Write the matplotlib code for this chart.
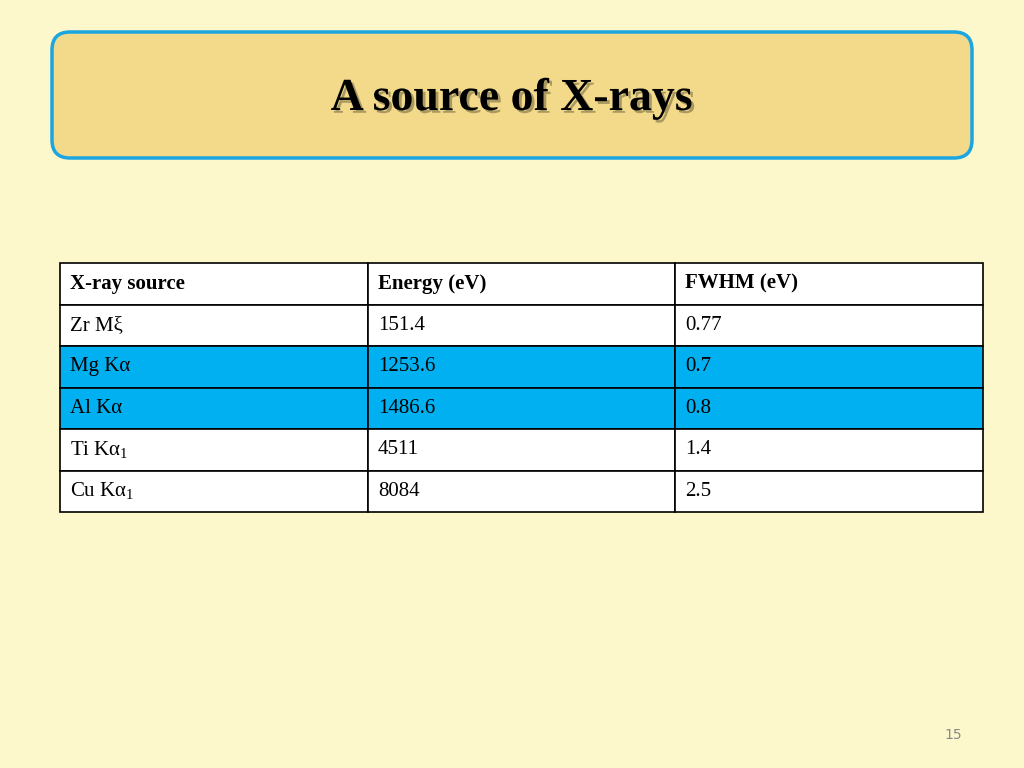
import matplotlib
matplotlib.use('Agg')
import matplotlib.pyplot as plt
from matplotlib.patches import FancyBboxPatch, Rectangle
import matplotlib.patheffects as pe

plt.rcParams['font.family'] = ['Liberation Serif', 'DejaVu Serif']
plt.rcParams['mathtext.fontset'] = 'custom'
plt.rcParams['mathtext.rm'] = 'Liberation Serif'

title = 'A source of X-rays'
headers = ['X-ray source', 'Energy (eV)', 'FWHM (eV)']
sources = ['Zr M\u03be', 'Mg K\u03b1', 'Al K\u03b1', 'Ti K\u03b1$_1$', 'Cu K\u03b1$_1$']
energies = ['151.4', '1253.6', '1486.6', '4511', '8084']
fwhm = ['0.77', '0.7', '0.8', '1.4', '2.5']
highlight = [False, True, True, False, False]
page = '15'

fig = plt.figure(figsize=(10.24, 7.68), dpi=100)
fig.patch.set_facecolor('#FDF8CB')
ax = fig.add_axes([0, 0, 1, 1])
ax.set_xlim(0, 1024)
ax.set_ylim(768, 0)
ax.axis('off')

# title box
ax.add_patch(FancyBboxPatch((52, 32), 920, 126, boxstyle='round,pad=0,rounding_size=18',
                            fc='#F2DA8A', ec='#1BA6E2', lw=2.5))
ax.text(512, 99, title, ha='center', va='center', fontsize=33, fontweight='bold',
        color='black', path_effects=[pe.withSimplePatchShadow(offset=(2, -2), alpha=0.3)])

# table
col_x = [60, 368, 675, 983]
top, row_h = 263, 41.5
rows = [headers] + [list(r) for r in zip(sources, energies, fwhm)]
fills = [False] + highlight
for i, row in enumerate(rows):
    y = top + i * row_h
    for j, txt in enumerate(row):
        ax.add_patch(Rectangle((col_x[j], y), col_x[j + 1] - col_x[j], row_h,
                               fc='#00B0F0' if fills[i] else 'white', ec='black', lw=1.2))
        ax.text(col_x[j] + 10, y + row_h / 2, txt, ha='left', va='center', fontsize=15,
                fontweight='bold' if i == 0 else 'normal')

ax.text(953, 735, page, ha='center', va='center', fontsize=10, color='#888888',
        family='DejaVu Sans')

plt.savefig('out.png', dpi=100, facecolor=fig.get_facecolor())
